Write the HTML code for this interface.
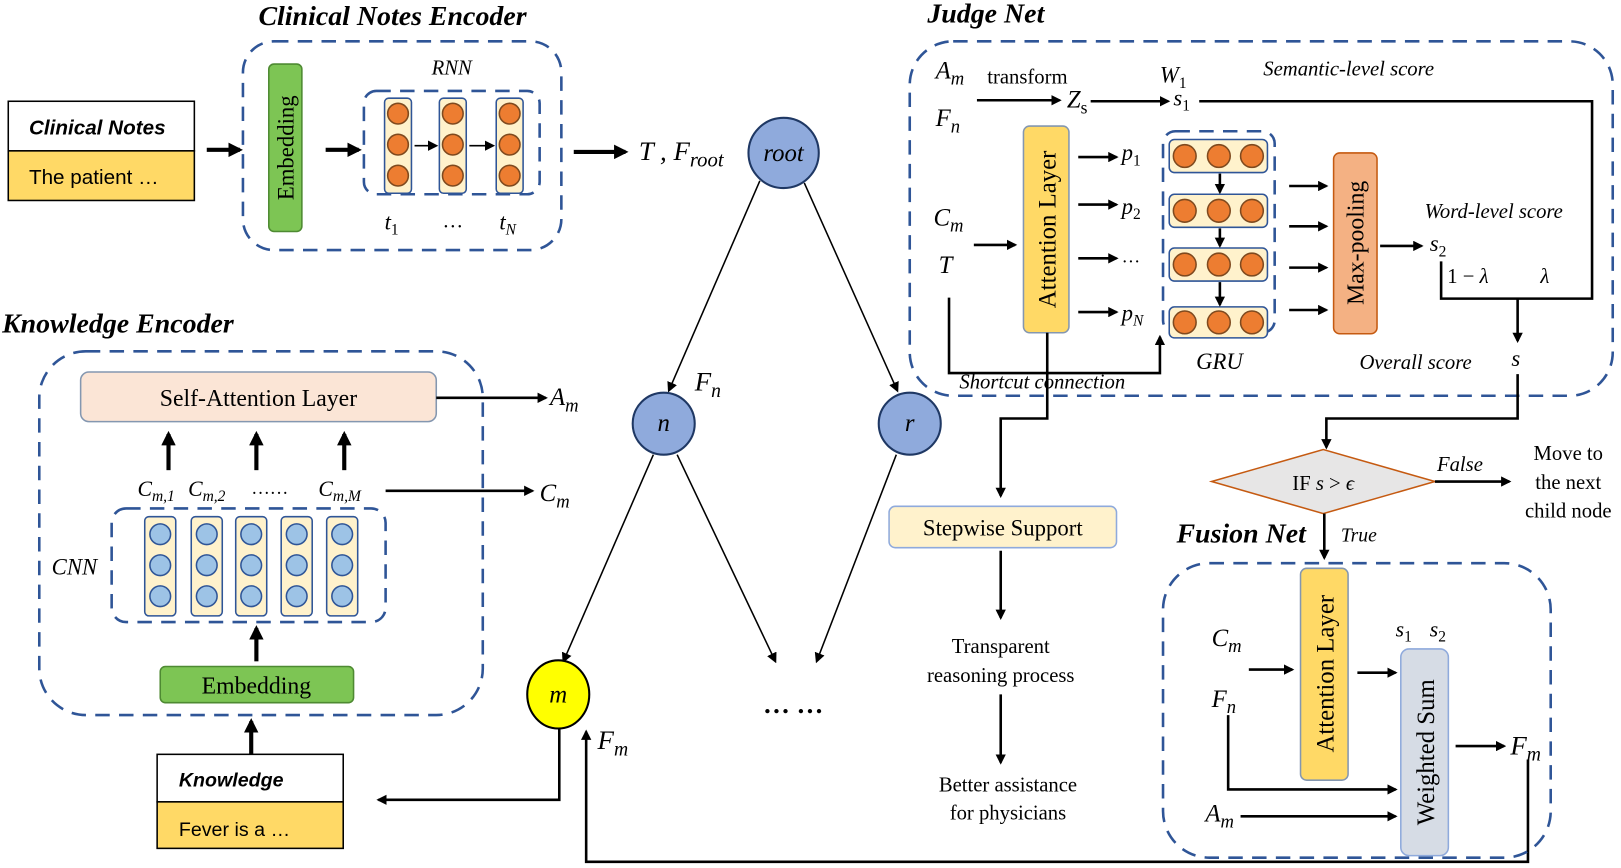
<!DOCTYPE html>
<html><head><meta charset="utf-8"><style>
html,body{margin:0;padding:0;background:#fff}
svg{display:block}
text{font-family:"Liberation Serif",serif;fill:#000}
.i{font-style:italic}
.t{font-weight:bold;font-style:italic;font-size:27px}
.d{fill:none;stroke:#2F5597;stroke-width:2.5;stroke-dasharray:14 9}
.l{stroke:#000;stroke-width:2.5;fill:none}
.th{stroke:#000;stroke-width:4;fill:none}
.tn{stroke:#000;stroke-width:1.5;fill:none}
</style></head><body>
<svg width="1621" height="868" viewBox="0 0 1568 840" preserveAspectRatio="none" xmlns="http://www.w3.org/2000/svg">
<defs>
<marker id="a" markerWidth="10" markerHeight="10" refX="8" refY="5" orient="auto" markerUnits="userSpaceOnUse"><path d="M0,0 L10,5 L0,10 z" fill="#000"/></marker>
<marker id="b" markerWidth="14" markerHeight="14" refX="11" refY="7" orient="auto" markerUnits="userSpaceOnUse"><path d="M0,0 L14,7 L0,14 z" fill="#000"/></marker>
</defs>

<text x="250" y="24" class="t">Clinical Notes Encoder</text>
<rect x="235" y="40" width="308" height="202" rx="30" class="d"/>
<rect x="8" y="98" width="180" height="48" fill="#fff" stroke="#000" stroke-width="1.5"/>
<rect x="8" y="146" width="180" height="48" fill="#FFD966" stroke="#000" stroke-width="1.5"/>
<text x="28" y="130" style="font-family:'Liberation Sans',sans-serif;font-weight:bold;font-style:italic;font-size:20px">Clinical Notes</text>
<text x="28" y="178" style="font-family:'Liberation Sans',sans-serif;font-size:20px">The patient …</text>
<line x1="200" y1="145" x2="232" y2="145" class="th" marker-end="url(#b)"/>
<rect x="260" y="62" width="32" height="162" rx="5" fill="#7DC554" stroke="#4E8A32" stroke-width="1.5"/>
<text transform="translate(284,143) rotate(-90)" text-anchor="middle" font-size="22">Embedding</text>
<line x1="315" y1="145" x2="347" y2="145" class="th" marker-end="url(#b)"/>
<text x="437" y="72" class="i" font-size="20" text-anchor="middle">RNN</text>
<rect x="352" y="88" width="170" height="100" rx="12" class="d"/>
<g stroke="#2F5597" stroke-width="1.5">
<rect x="372" y="95" width="26" height="92" rx="4" fill="#FFF2CC"/>
<rect x="425" y="95" width="26" height="92" rx="4" fill="#FFF2CC"/>
<rect x="480" y="95" width="26" height="92" rx="4" fill="#FFF2CC"/>
<g fill="#ED7D31" stroke="#7F4A1F">
<circle cx="385" cy="110" r="10"/><circle cx="385" cy="140" r="10"/><circle cx="385" cy="170" r="10"/>
<circle cx="438" cy="110" r="10"/><circle cx="438" cy="140" r="10"/><circle cx="438" cy="170" r="10"/>
<circle cx="493" cy="110" r="10"/><circle cx="493" cy="140" r="10"/><circle cx="493" cy="170" r="10"/>
</g></g>
<line x1="401" y1="141" x2="422" y2="141" class="tn" marker-end="url(#a)"/>
<line x1="454" y1="141" x2="477" y2="141" class="tn" marker-end="url(#a)"/>
<text x="372" y="222" class="i" font-size="22">t<tspan font-size="15" dy="5" font-style="normal">1</tspan></text>
<text x="428" y="220" font-size="20">…</text>
<text x="483" y="222" class="i" font-size="22">t<tspan font-size="15" dy="5">N</tspan></text>
<line x1="555" y1="147" x2="605" y2="147" class="th" marker-end="url(#b)"/>
<text x="618" y="155" class="i" font-size="26">T , F<tspan font-size="20" dy="6">root</tspan></text>

<line x1="735" y1="175" x2="647" y2="378" class="tn" marker-end="url(#a)"/>
<line x1="778" y1="177" x2="868" y2="378" class="tn" marker-end="url(#a)"/>
<line x1="632" y1="440" x2="545" y2="640" class="tn" marker-end="url(#a)"/>
<line x1="655" y1="440" x2="750" y2="640" class="tn" marker-end="url(#a)"/>
<line x1="867" y1="440" x2="790" y2="640" class="tn" marker-end="url(#a)"/>
<circle cx="758" cy="148" r="34" fill="#8FAADC" stroke="#1F3864" stroke-width="2"/>
<text x="758" y="156" class="i" font-size="24" text-anchor="middle">root</text>
<circle cx="642" cy="410" r="30" fill="#8FAADC" stroke="#1F3864" stroke-width="2"/>
<text x="642" y="417" class="i" font-size="24" text-anchor="middle">n</text>
<circle cx="880" cy="410" r="30" fill="#8FAADC" stroke="#1F3864" stroke-width="2"/>
<text x="880" y="417" class="i" font-size="24" text-anchor="middle">r</text>
<ellipse cx="540" cy="672" rx="30" ry="33" fill="#FFFF00" stroke="#000" stroke-width="2"/>
<text x="540" y="680" class="i" font-size="24" text-anchor="middle">m</text>
<text x="672" y="378" class="i" font-size="26">F<tspan font-size="19" dy="6">n</tspan></text>
<text x="578" y="725" class="i" font-size="26">F<tspan font-size="19" dy="6">m</tspan></text>
<text x="738" y="690" font-size="26" font-weight="bold">… …</text>

<text x="2" y="322" class="t">Knowledge Encoder</text>
<rect x="38" y="340" width="429" height="352" rx="45" class="d"/>
<rect x="78" y="360" width="344" height="48" rx="8" fill="#FBE5D6" stroke="#8497B0" stroke-width="1.5"/>
<text x="250" y="393" font-size="23" text-anchor="middle">Self-Attention Layer</text>
<line x1="422" y1="385" x2="528" y2="385" class="l" marker-end="url(#a)"/>
<text x="532" y="392" class="i" font-size="24">A<tspan font-size="18" dy="6">m</tspan></text>
<line x1="163" y1="455" x2="163" y2="420" class="th" marker-end="url(#b)"/>
<line x1="248" y1="455" x2="248" y2="420" class="th" marker-end="url(#b)"/>
<line x1="333" y1="455" x2="333" y2="420" class="th" marker-end="url(#b)"/>
<text x="133" y="480" class="i" font-size="21">C<tspan font-size="15" dy="5">m,1</tspan></text>
<text x="182" y="480" class="i" font-size="21">C<tspan font-size="15" dy="5">m,2</tspan></text>
<text x="243" y="478" font-size="18">……</text>
<text x="308" y="480" class="i" font-size="21">C<tspan font-size="15" dy="5">m,M</tspan></text>
<line x1="373" y1="475" x2="515" y2="475" class="l" marker-end="url(#a)"/>
<text x="522" y="485" class="i" font-size="24">C<tspan font-size="18" dy="6">m</tspan></text>
<rect x="108" y="492" width="265" height="110" rx="14" class="d"/>
<text x="50" y="556" class="i" font-size="22">CNN</text>
<g stroke="#2F5597" stroke-width="1.5">
<g fill="#FFF2CC">
<rect x="140" y="500" width="30" height="96" rx="4"/><rect x="185" y="500" width="30" height="96" rx="4"/><rect x="228" y="500" width="30" height="96" rx="4"/><rect x="272" y="500" width="30" height="96" rx="4"/><rect x="316" y="500" width="30" height="96" rx="4"/>
</g>
<g fill="#9DC3E6">
<circle cx="155" cy="517" r="10"/><circle cx="155" cy="547" r="10"/><circle cx="155" cy="577" r="10"/>
<circle cx="200" cy="517" r="10"/><circle cx="200" cy="547" r="10"/><circle cx="200" cy="577" r="10"/>
<circle cx="243" cy="517" r="10"/><circle cx="243" cy="547" r="10"/><circle cx="243" cy="577" r="10"/>
<circle cx="287" cy="517" r="10"/><circle cx="287" cy="547" r="10"/><circle cx="287" cy="577" r="10"/>
<circle cx="331" cy="517" r="10"/><circle cx="331" cy="547" r="10"/><circle cx="331" cy="577" r="10"/>
</g></g>
<line x1="248" y1="640" x2="248" y2="608" class="th" marker-end="url(#b)"/>
<rect x="155" y="645" width="187" height="35" rx="5" fill="#7DC554" stroke="#4E8A32" stroke-width="1.5"/>
<text x="248" y="671" font-size="23" text-anchor="middle">Embedding</text>
<line x1="243" y1="735" x2="243" y2="698" class="th" marker-end="url(#b)"/>
<rect x="152" y="730" width="180" height="46" fill="#fff" stroke="#000" stroke-width="1.5"/>
<rect x="152" y="776" width="180" height="45" fill="#FFD966" stroke="#000" stroke-width="1.5"/>
<text x="173" y="761" style="font-family:'Liberation Sans',sans-serif;font-weight:bold;font-style:italic;font-size:19px">Knowledge</text>
<text x="173" y="809" style="font-family:'Liberation Sans',sans-serif;font-size:19px">Fever is a …</text>
<polyline points="541,705 541,774 366,774" class="l" marker-end="url(#a)"/>
<polyline points="1478,735 1478,834 567,834 567,708" class="l" marker-end="url(#a)"/>

<text x="897" y="22" class="t">Judge Net</text>
<rect x="880" y="40" width="680" height="343" rx="42" class="d"/>
<text x="905" y="76" class="i" font-size="24">A<tspan font-size="18" dy="6">m</tspan></text>
<text x="955" y="81" font-size="20">transform</text>
<text x="905" y="122" class="i" font-size="24">F<tspan font-size="18" dy="6">n</tspan></text>
<line x1="945" y1="97" x2="1025" y2="97" class="l" marker-end="url(#a)"/>
<text x="1032" y="104" class="i" font-size="24">Z<tspan font-size="17" dy="6" font-style="normal">s</tspan></text>
<text x="1122" y="80" class="i" font-size="22">W<tspan font-size="15" dy="5" font-style="normal">1</tspan></text>
<line x1="1055" y1="98" x2="1130" y2="98" class="l" marker-end="url(#a)"/>
<text x="1135" y="102" class="i" font-size="22">s<tspan font-size="15" dy="5" font-style="normal">1</tspan></text>
<text x="1222" y="73" class="i" font-size="20">Semantic-level score</text>
<polyline points="1160,98 1540,98 1540,289 1394,289 1394,253" class="l"/>
<text x="1383" y="243" class="i" font-size="22">s<tspan font-size="15" dy="5" font-style="normal">2</tspan></text>
<text x="1378" y="211" class="i" font-size="20">Word-level score</text>
<text x="1400" y="274" font-size="20">1 − <tspan class="i">λ</tspan></text>
<text x="1490" y="274" class="i" font-size="20">λ</text>
<line x1="1468" y1="289" x2="1468" y2="330" class="l" marker-end="url(#a)"/>
<text x="1462" y="354" class="i" font-size="22">s</text>
<text x="1315" y="357" class="i" font-size="20">Overall score</text>
<rect x="990" y="122" width="44" height="200" rx="6" fill="#FFD966" stroke="#8497B0" stroke-width="1.5"/>
<text transform="translate(1021,222) rotate(-90)" text-anchor="middle" font-size="24">Attention Layer</text>
<text x="903" y="218" class="i" font-size="24">C<tspan font-size="18" dy="6">m</tspan></text>
<text x="908" y="264" class="i" font-size="24">T</text>
<line x1="942" y1="237" x2="982" y2="237" class="l" marker-end="url(#a)"/>
<line x1="1043" y1="152" x2="1080" y2="152" class="l" marker-end="url(#a)"/>
<line x1="1043" y1="198" x2="1080" y2="198" class="l" marker-end="url(#a)"/>
<line x1="1043" y1="250" x2="1080" y2="250" class="l" marker-end="url(#a)"/>
<line x1="1043" y1="302" x2="1080" y2="302" class="l" marker-end="url(#a)"/>
<text x="1085" y="155" class="i" font-size="22">p<tspan font-size="15" dy="5" font-style="normal">1</tspan></text>
<text x="1085" y="207" class="i" font-size="22">p<tspan font-size="15" dy="5" font-style="normal">2</tspan></text>
<text x="1085" y="254" font-size="18">…</text>
<text x="1085" y="310" class="i" font-size="22">p<tspan font-size="15" dy="5">N</tspan></text>
<rect x="1125" y="127" width="108" height="195" rx="12" class="d"/>
<g stroke="#2F5597" stroke-width="1.5">
<g fill="#FFF2CC">
<rect x="1131" y="135" width="95" height="32" rx="5"/><rect x="1131" y="188" width="95" height="32" rx="5"/><rect x="1131" y="240" width="95" height="32" rx="5"/><rect x="1131" y="297" width="95" height="30" rx="5"/>
</g>
<g fill="#ED7D31" stroke="#7F4A1F">
<circle cx="1146" cy="151" r="11"/><circle cx="1179" cy="151" r="11"/><circle cx="1211" cy="151" r="11"/>
<circle cx="1146" cy="204" r="11"/><circle cx="1179" cy="204" r="11"/><circle cx="1211" cy="204" r="11"/>
<circle cx="1146" cy="256" r="11"/><circle cx="1179" cy="256" r="11"/><circle cx="1211" cy="256" r="11"/>
<circle cx="1146" cy="312" r="11"/><circle cx="1179" cy="312" r="11"/><circle cx="1211" cy="312" r="11"/>
</g></g>
<line x1="1180" y1="168" x2="1180" y2="186" class="l" marker-end="url(#a)"/>
<line x1="1180" y1="221" x2="1180" y2="238" class="l" marker-end="url(#a)"/>
<line x1="1180" y1="273" x2="1180" y2="295" class="l" marker-end="url(#a)"/>
<line x1="1247" y1="180" x2="1283" y2="180" class="l" marker-end="url(#a)"/>
<line x1="1247" y1="219" x2="1283" y2="219" class="l" marker-end="url(#a)"/>
<line x1="1247" y1="259" x2="1283" y2="259" class="l" marker-end="url(#a)"/>
<line x1="1247" y1="300" x2="1283" y2="300" class="l" marker-end="url(#a)"/>
<rect x="1290" y="148" width="42" height="175" rx="6" fill="#F4B183" stroke="#C55A11" stroke-width="1.5"/>
<text transform="translate(1319,235) rotate(-90)" text-anchor="middle" font-size="23">Max-pooling</text>
<line x1="1335" y1="238" x2="1375" y2="238" class="l" marker-end="url(#a)"/>
<text x="1157" y="357" class="i" font-size="22">GRU</text>
<polyline points="918,288 918,361 1122,361 1122,326" class="l" marker-end="url(#a)"/>
<polyline points="1013,322 1013,405 968,405 968,480" class="l" marker-end="url(#a)"/>
<text x="928" y="376" class="i" font-size="20">Shortcut connection</text>

<rect x="860" y="490" width="220" height="40" rx="6" fill="#FFF2CC" stroke="#8FAADC" stroke-width="1.5"/>
<text x="970" y="518" font-size="22" text-anchor="middle">Stepwise Support</text>
<line x1="968" y1="533" x2="968" y2="598" class="l" marker-end="url(#a)"/>
<text x="968" y="632" font-size="20" text-anchor="middle">Transparent</text>
<text x="968" y="660" font-size="20" text-anchor="middle">reasoning process</text>
<line x1="968" y1="672" x2="968" y2="738" class="l" marker-end="url(#a)"/>
<text x="975" y="766" font-size="20" text-anchor="middle">Better assistance</text>
<text x="975" y="793" font-size="20" text-anchor="middle">for physicians</text>

<polyline points="1468,362 1468,405 1283,405 1283,433" class="l" marker-end="url(#a)"/>
<polygon points="1172,466 1280,435 1388,466 1280,497" fill="#E7E6E6" stroke="#C55A11" stroke-width="1.5"/>
<text x="1280" y="474" font-size="20" text-anchor="middle">IF <tspan class="i">s</tspan> &gt; <tspan class="i">ϵ</tspan></text>
<line x1="1388" y1="466" x2="1460" y2="466" class="l" marker-end="url(#a)"/>
<text x="1390" y="456" class="i" font-size="20">False</text>
<text x="1517" y="445" font-size="20" text-anchor="middle">Move to</text>
<text x="1517" y="473" font-size="20" text-anchor="middle">the next</text>
<text x="1517" y="501" font-size="20" text-anchor="middle">child node</text>
<line x1="1281" y1="497" x2="1281" y2="540" class="l" marker-end="url(#a)"/>
<text x="1297" y="524" class="i" font-size="19">True</text>

<text x="1138" y="525" class="t">Fusion Net</text>
<rect x="1125" y="545" width="375" height="285" rx="45" class="d"/>
<rect x="1258" y="550" width="46" height="205" rx="6" fill="#FFD966" stroke="#8497B0" stroke-width="1.5"/>
<text transform="translate(1290,652) rotate(-90)" text-anchor="middle" font-size="24">Attention Layer</text>
<text x="1172" y="625" class="i" font-size="24">C<tspan font-size="18" dy="6">m</tspan></text>
<line x1="1208" y1="648" x2="1250" y2="648" class="l" marker-end="url(#a)"/>
<text x="1172" y="684" class="i" font-size="24">F<tspan font-size="18" dy="6">n</tspan></text>
<polyline points="1188,692 1188,764 1350,764" class="l" marker-end="url(#a)"/>
<text x="1166" y="795" class="i" font-size="24">A<tspan font-size="18" dy="6">m</tspan></text>
<line x1="1200" y1="790" x2="1350" y2="790" class="l" marker-end="url(#a)"/>
<line x1="1313" y1="651" x2="1350" y2="651" class="l" marker-end="url(#a)"/>
<text x="1350" y="616" class="i" font-size="21">s<tspan font-size="15" dy="5" font-style="normal">1</tspan></text>
<text x="1383" y="616" class="i" font-size="21">s<tspan font-size="15" dy="5" font-style="normal">2</tspan></text>
<rect x="1355" y="628" width="46" height="200" rx="8" fill="#D6DCE5" stroke="#8FAADC" stroke-width="1.5"/>
<text transform="translate(1387,728) rotate(-90)" text-anchor="middle" font-size="24">Weighted Sum</text>
<line x1="1408" y1="722" x2="1455" y2="722" class="l" marker-end="url(#a)"/>
<text x="1461" y="730" class="i" font-size="26">F<tspan font-size="19" dy="6">m</tspan></text>
</svg>
</body></html>
